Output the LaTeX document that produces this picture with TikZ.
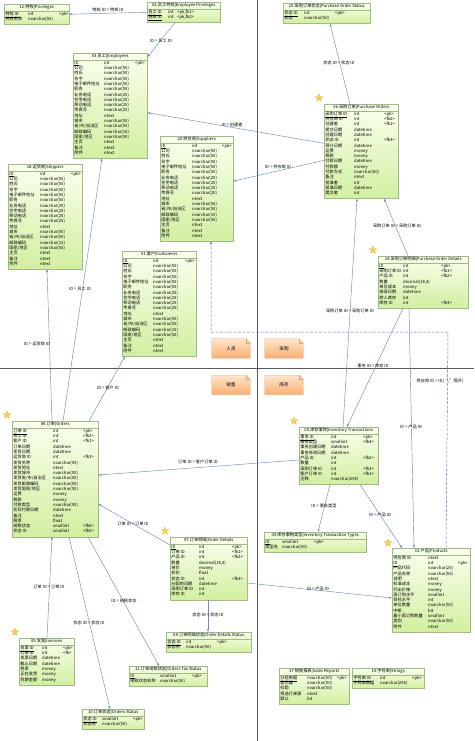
\documentclass[tikz,border=0pt]{standalone}
\usepackage{fontspec}
\setmainfont{Noto Sans CJK SC}
\usetikzlibrary{shapes.geometric,arrows.meta,backgrounds}
\definecolor{erTop}{HTML}{FAFFEE}
\definecolor{erBot}{HTML}{D2EFA0}
\definecolor{erBorder}{HTML}{9DBE7E}
\definecolor{edgeC}{HTML}{6D8CC0}
\definecolor{dashC}{HTML}{7466E0}
\definecolor{noteTop}{HTML}{FFE6CC}
\definecolor{noteBot}{HTML}{F7AE6E}
\definecolor{noteBorder}{HTML}{E5A26A}
\definecolor{divC}{HTML}{5A5A5A}
\definecolor{starC}{HTML}{F6D54A}
\definecolor{starB}{HTML}{D9A830}
\newcommand\erfont{\fontsize{4.2}{5}\selectfont}
\newcommand\slh{/}
\newcommand\cma{,}
\newcommand\ulif[2]{\ifnum#1=1 \underline{#2}\else #2\fi}
\newcommand\erent[8]{%
  \node[erbox, minimum width=#3pt, minimum height={9.5pt+5.3pt*#4}, anchor=north west] (#1) at (#2) {};
  \node[ertitle] (#1-h) at ([yshift=-3.9pt]#1.north) {#7};
  \draw[draw=erBorder, line width=0.3pt] ([yshift=-7.5pt]#1.north west) -- ([yshift=-7.5pt]#1.north east);
  \foreach \rn/\rt/\rk/\ru [count=\ri] in {#8} {
    \node[ercell] (#1-n\ri) at ([xshift=1.2pt,yshift={-10.2pt-5.3pt*(\ri-1)}]#1.north west) {\ulif{\ru}{\rn}};
    \node[ercell] (#1-t\ri) at ([xshift=#5pt,yshift={-10.2pt-5.3pt*(\ri-1)}]#1.north west) {\rt};
    \node[ercell] (#1-k\ri) at ([xshift=#6pt,yshift={-10.2pt-5.3pt*(\ri-1)}]#1.north west) {\rk};
  }
}
\begin{document}
\begin{tikzpicture}[x=1pt,y=-1pt,
  erbox/.style={draw=erBorder, line width=0.4pt, top color=erTop, bottom color=erBot, inner sep=0pt, rectangle},
  ertitle/.style={font=\erfont, inner sep=0pt, text height=3pt, text depth=0.9pt},
  ercell/.style={font=\erfont, inner sep=0pt, anchor=west, text height=3pt, text depth=0.9pt},
  conn/.style={draw=edgeC, line width=0.45pt, -{Stealth[length=3.2pt,width=2.2pt]}},
  dconn/.style={draw=dashC, line width=0.5pt, dash pattern=on 3pt off 1.5pt, -{Stealth[length=3.2pt,width=2.2pt]}},
  lbl/.style={font=\erfont, inner sep=0.4pt, text height=3pt, text depth=0.9pt},
  area/.style={minimum width=38pt, minimum height=19pt, inner sep=0pt, font=\fontsize{4.6}{5}\selectfont},
  divider/.style={draw=divC, line width=0.5pt},
  starm/.style={star, star points=5, star point ratio=2.3, fill=starC, draw=starB, line width=0.2pt, minimum size=8pt, inner sep=0pt}
]
\useasboundingbox (0,0) rectangle (474,741);

% dividers
\draw[divider] (257,0) -- (257,741);
\draw[divider] (0,368) -- (474,368);

% entities
\erent{priv}{4,4}{65}{2}{24}{55}{12.特权|Privileges}{特权 ID/int/<pk>/1, 特权名称/nvarchar(50)//0}
\erent{ep}{147,2}{73}{2}{21}{30}{02.员工特权|Employee Privileges}{员工 ID/int/<pk\cma fk1>/1, 特权 ID/int/<pk\cma fk2>/1}
\erent{emp}{73,53}{74}{18}{31}{62}{03.员工|Employees}{ID/int/<pk>/1, 公司/nvarchar(50)//0, 姓氏/nvarchar(50)//0, 名字/nvarchar(50)//0, 电子邮件地址/nvarchar(50)//0, 职务/nvarchar(50)//0, 业务电话/nvarchar(25)//0, 住宅电话/nvarchar(25)//0, 移动电话/nvarchar(25)//0, 传真号/nvarchar(25)//0, 地址/ntext//0, 城市/nvarchar(50)//0, 省\slh 市\slh 自治区/nvarchar(50)//0, 邮政编码/nvarchar(15)//0, 国家\slh 地区/nvarchar(50)//0, 主页/ntext//0, 备注/ntext//0, 附件/ntext//0}
\erent{sup}{160,136}{73}{18}{32}{62}{20.供应商|Suppliers}{ID/int/<pk>/1, 公司/nvarchar(50)//0, 姓氏/nvarchar(50)//0, 名字/nvarchar(50)//0, 电子邮件地址/nvarchar(50)//0, 职务/nvarchar(50)//0, 业务电话/nvarchar(25)//0, 住宅电话/nvarchar(25)//0, 移动电话/nvarchar(25)//0, 传真号/nvarchar(25)//0, 地址/ntext//0, 城市/nvarchar(50)//0, 省\slh 市\slh 自治区/nvarchar(50)//0, 邮政编码/nvarchar(15)//0, 国家\slh 地区/nvarchar(50)//0, 主页/ntext//0, 备注/ntext//0, 附件/ntext//0}
\erent{ship}{8,164}{74}{18}{32}{63}{18.运货商|Shippers}{ID/int/<pk>/1, 公司/nvarchar(50)//0, 姓氏/nvarchar(50)//0, 名字/nvarchar(50)//0, 电子邮件地址/nvarchar(50)//0, 职务/nvarchar(50)//0, 业务电话/nvarchar(25)//0, 住宅电话/nvarchar(25)//0, 移动电话/nvarchar(25)//0, 传真号/nvarchar(25)//0, 地址/ntext//0, 城市/nvarchar(50)//0, 省\slh 市\slh 自治区/nvarchar(50)//0, 邮政编码/nvarchar(15)//0, 国家\slh 地区/nvarchar(50)//0, 主页/ntext//0, 备注/ntext//0, 附件/ntext//0}
\erent{cust}{122,251}{74}{18}{31}{63}{01.客户|Customers}{ID/int/<pk>/1, 公司/nvarchar(50)//0, 姓氏/nvarchar(50)//0, 名字/nvarchar(50)//0, 电子邮件地址/nvarchar(50)//0, 职务/nvarchar(50)//0, 业务电话/nvarchar(25)//0, 住宅电话/nvarchar(25)//0, 移动电话/nvarchar(25)//0, 传真号/nvarchar(25)//0, 地址/ntext//0, 城市/nvarchar(50)//0, 省\slh 市\slh 自治区/nvarchar(50)//0, 邮政编码/nvarchar(15)//0, 国家\slh 地区/nvarchar(50)//0, 主页/ntext//0, 备注/ntext//0, 附件/ntext//0}
\erent{pos}{283,3}{87}{2}{21}{52}{15.采购订单状态|Purchase Order Status}{状态 ID/int/<pk>/1, 状态/nvarchar(50)//0}
\erent{po}{324,104}{74}{16}{30}{60}{16.采购订单|Purchase Orders}{采购订单 ID/int/<pk>/1, 供应商 ID/int/<fk2>/0, 创建者/int/<fk1>/0, 提交日期/datetime//0, 创建日期/datetime//0, 状态 ID/int/<fk3>/0, 预计日期/datetime//0, 运费/money//0, 税款/money//0, 付款日期/datetime//0, 付款额/money//0, 付款方式/nvarchar(50)//0, 备注/ntext//0, 批准者/int//0, 批准日期/datetime//0, 提交者/int//0}
\erent{pod}{378,256}{90}{8}{25}{63}{14.采购订单明细|Purchase Order Details}{ID/int/<pk>/1, 采购订单 ID/int/<fk1>/0, 产品 ID/int/<fk2>/0, 数量/decimal(18\cma 4)//0, 单位成本/money//0, 接收日期/datetime//0, 转入库存/bit//0, 库存 ID/int/<fk3>/0}
\erent{inv}{299,427}{79}{9}{32}{64}{05.库存事物|Inventory Transactions}{事务 ID/int/<pk>/1, 事务类型/smallint/<fk4>/0, 事务创建日期/datetime//0, 事务修改日期/datetime//0, 产品 ID/int/<fk2>/0, 数量/int//0, 采购订单 ID/int/<fk3>/0, 客户订单 ID/int/<fk1>/0, 注释/nvarchar(255)//0}
\erent{itt}{264,532}{102}{2}{18}{50}{04.库存事物类型|Inventory Transaction Types}{ID/smallint/<pk>/1, 类型名/nvarchar(50)//0}
\erent{prod}{392,548}{78}{14}{36}{66}{13.产品|Products}{供应商 ID/ntext//0, ID/int/<pk>/1, 产品代码/nvarchar(25)//0, 产品名称/nvarchar(50)//0, 说明/ntext//0, 标准成本/money//0, 列出价格/money//0, 再订购水平/smallint//0, 目标水平/int//0, 单位数量/nvarchar(50)//0, 中断/bit//0, 最小再订购数量/smallint//0, 类别/nvarchar(50)//0, 附件/ntext//0}
\erent{ord}{12,421}{86}{20}{41}{71}{06.订单|Orders}{订单 ID/int/<pk>/1, 员工 ID/int/<fk2>/0, 客户 ID/int/<fk1>/0, 订单日期/datetime//0, 发货日期/datetime//0, 运货商 ID/int/<fk3>/0, 发货名称/nvarchar(50)//0, 发货地址/ntext//0, 发货城市/nvarchar(50)//0, 发货省\slh 市\slh 自治区/nvarchar(50)//0, 发货邮政编码/nvarchar(50)//0, 发货国家\slh 地区/nvarchar(50)//0, 运费/money//0, 税款/money//0, 付款类型/nvarchar(50)//0, 实际付款日期/datetime//0, 备注/ntext//0, 税率/float//0, 纳税状态/smallint/<fk6>/0, 状态 ID/smallint/<fk5>/0}
\erent{od}{170,537}{77}{10}{29}{62}{07.订单明细|Order Details}{ID/int/<pk>/1, 订单 ID/int/<fk1>/0, 产品 ID/int/<fk2>/0, 数量/decimal(18\cma 4)//0, 单价/money//0, 折扣/float//0, 状态 ID/int/<fk3>/0, 分配的日期/datetime//0, 采购订单 ID/int//0, 库存 ID/int//0}
\erent{ods}{166,632}{85}{2}{20}{51}{08.订单明细状态|Order Details Status}{状态 ID/int/<pk>/1, 状态名/nvarchar(50)//0}
\erent{tax}{129,666}{78}{2}{31}{63}{11.订单纳税状态|Orders Tax Status}{ID/smallint/<pk>/1, 纳税状态名称/nvarchar(50)//0}
\erent{ost}{82,709}{62}{2}{20}{51}{10.订单状态|Orders Status}{状态 ID/smallint/<pk>/1, 状态名/nvarchar(50)//0}
\erent{invc}{19,638}{55}{7}{23}{44}{09.发票|Invoices}{发票 ID/int/<pk>/1, 订单 ID/int/<fk>/0, 发票日期/datetime//0, 截止日期/datetime//0, 税率/money//0, 正在发货/money//0, 到期金额/money//0}
\erent{sr}{279,668}{70}{5}{28}{58}{17.销售报表|Sales Reports}{分组依据/nvarchar(50)/<pk>/1, 显示器/nvarchar(50)//0, 标题/nvarchar(50)//0, 筛选行来源/ntext//0, 默认/bit//0}
\erent{str}{352,668}{72}{2}{28}{60}{19.字符串|Strings}{字符串 ID/int/<pk>/1, 字符串数据/nvarchar(255)//0}

% stars
\node[starm] (st1) at (319,98) {};
\node[starm] (st2) at (373,250) {};
\node[starm] (st3) at (294,421) {};
\node[starm] (st4) at (7,415) {};
\node[starm] (st5) at (165,531) {};
\node[starm] (st6) at (388,543) {};
\node[starm] (st7) at (15,632) {};

% area notes
\node[area] (hr) at (231,348.5) {人员};
\node[area] (pur) at (284,348.5) {采购};
\node[area] (sal) at (231,385) {销售};
\node[area] (stk) at (284,385) {库存};
\begin{scope}[on background layer]
\fill[white] (0,0) rectangle (474,741);
\foreach \n in {hr,pur,sal,stk} {
  \shadedraw[top color=noteTop, bottom color=noteBot, draw=noteBorder, line width=0.3pt]
    (\n.south west) -- (\n.north west) -- ([xshift=-4pt]\n.north east) -- ([yshift=-4pt]\n.north east) -- (\n.south east) -- cycle;
  \draw[noteBorder, line width=0.3pt] ([xshift=-4pt]\n.north east) -- ([xshift=-4pt,yshift=-4pt]\n.north east) -- ([yshift=-4pt]\n.north east);
}
\end{scope}

% connectors
\draw[conn] (ep.west) -- (priv.east);
\draw[conn] ([xshift=28pt]ep.south west) -- ([yshift=-4pt]emp.north east);
\draw[conn] ([yshift=8pt]po.west) -- ([yshift=-7pt]emp.east);
\draw[conn] ([yshift=-9pt]po.west) -- ([yshift=7.5pt]sup.east);
\draw[conn] ([xshift=26pt]po.north west) -- ([xshift=47pt]pos.south west);
\draw[conn] ([xshift=30pt]pod.north west) -- ([xshift=60pt]po.south west);
\draw[conn] ([xshift=44pt]inv.north west) -- ([xshift=33pt]po.south west);
\draw[conn] ([xshift=25pt]pod.south west) -- ([xshift=48pt]inv.north west);
\draw[conn] ([xshift=31pt]pod.south west) -- ([xshift=22pt]prod.north west);
\draw[conn] ([yshift=-33pt]inv.north west) -- ([yshift=-54pt]ord.north east);
\draw[conn] ([xshift=31pt]inv.south west) -- ([xshift=54pt]itt.north west);
\draw[conn] ([xshift=61pt]inv.south west) -- ([xshift=10pt]prod.north west);
\draw[conn] ([yshift=-46pt]od.north east) -- ([yshift=-50pt]prod.north west);
\draw[conn] ([yshift=-8pt]od.north west) -- ([yshift=-83pt]ord.north east);
\draw[conn] ([xshift=38pt]od.south west) -- ([xshift=42pt]ods.north west);
\draw[conn] ([xshift=40pt]ord.north west) -- ([xshift=39pt]ship.south west);
\draw[conn] ([xshift=51pt]ord.north west) -- ([xshift=29pt]emp.south west);
\draw[conn] ([xshift=77pt]ord.north west) -- ([xshift=3pt]cust.south west);
\draw[conn] ([xshift=28pt]invc.north west) -- ([xshift=40pt]ord.south west);
\draw[conn] ([xshift=57pt]ord.south west) -- ([xshift=28pt]ost.north west);
\draw[conn] ([xshift=76pt]ord.south west) -- ([xshift=30pt]tax.north west);
\draw[dconn] ([xshift=54pt]prod.north west) -- ++(2,-216) coordinate (dk) -| ([xshift=51pt]sup.south west);

% labels
\node[lbl] (l1) at (108,10) {特权 ID = 特权 ID};
\node[lbl] (l2) at (161,41) {ID = 员工 ID};
\node[lbl] (l3) at (232,125) {ID = 创建者};
\node[lbl] (l4) at (278,167) {ID = 供应商 ID};
\node[lbl] (l5) at (339,63) {状态 ID = 状态 ID};
\node[lbl] (l6) at (397,226) {采购订单 ID = 采购订单 ID};
\node[lbl] (l7) at (350,311) {采购订单 ID = 采购订单 ID};
\node[lbl] (l8) at (373,366) {事务 ID = 库存 ID};
\node[lbl] (l9) at (411,427) {ID = 产品 ID};
\node[lbl] (l10) at (440,381) {供应商 ID = ID(“,”隔开)};
\node[lbl] (l11) at (198,462) {订单 ID = 客户订单 ID};
\node[lbl] (l12) at (324,506) {ID = 事务类型};
\node[lbl] (l13) at (380,515) {ID = 产品 ID};
\node[lbl] (l14) at (318,589) {ID = 产品 ID};
\node[lbl] (l15) at (133,524) {订单 ID = 订单 ID};
\node[lbl] (l16) at (208,615) {状态 ID = 状态 ID};
\node[lbl] (l17) at (37,344) {ID = 运货商 ID};
\node[lbl] (l18) at (80,289) {ID = 员工 ID};
\node[lbl] (l19) at (108,388) {ID = 客户 ID};
\node[lbl] (l20) at (49,587) {订单 ID = 订单 ID};
\node[lbl] (l21) at (89,623) {状态 ID = 状态 ID};
\node[lbl] (l22) at (124,601) {ID = 纳税状态};
\end{tikzpicture}
\end{document}
